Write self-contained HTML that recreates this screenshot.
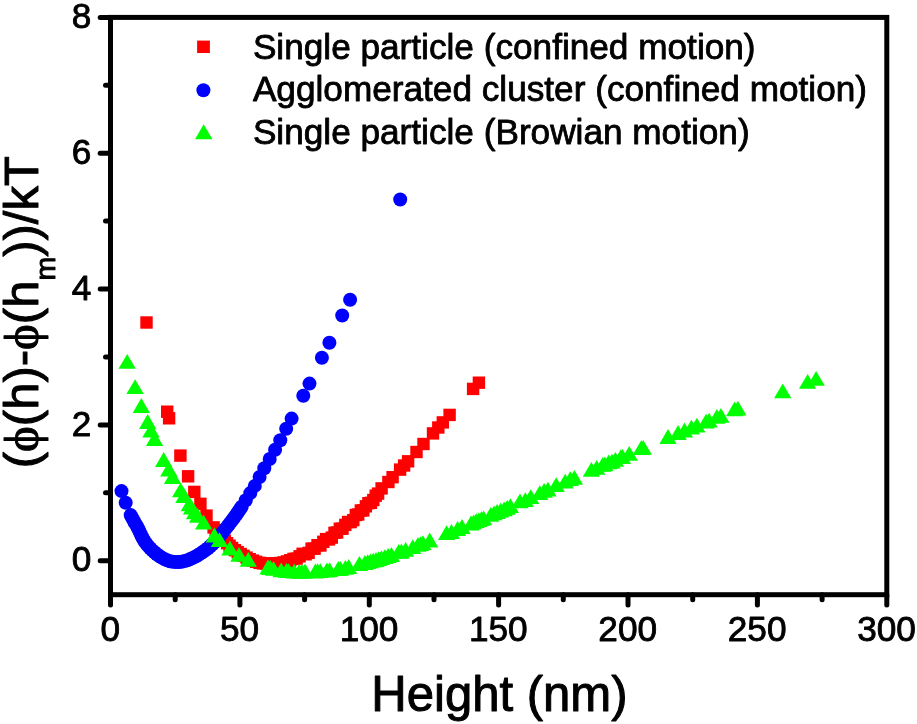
<!DOCTYPE html>
<html lang="en">
<head>
<meta charset="utf-8">
<title>Potential energy profile</title>
<style>
html,body{margin:0;padding:0;background:#fff;}
body{width:917px;height:724px;overflow:hidden;}
svg{display:block;}
svg text .sy{font-family:"Liberation Serif","DejaVu Serif",serif;}
svg text{font-family:"Liberation Sans",Arial,Helvetica,sans-serif;fill:#000;stroke:#000;stroke-width:0.85px;stroke-linejoin:round;}
</style>
</head>
<body>
<svg width="917" height="724" viewBox="0 0 917 724">
<rect width="917" height="724" fill="#fff"/>
<g fill="#ff0000">
<rect x="140.3" y="316.3" width="12.4" height="12.4"/>
<rect x="161.0" y="405.5" width="12.4" height="12.4"/>
<rect x="162.9" y="412.1" width="12.4" height="12.4"/>
<rect x="174.2" y="449.4" width="12.4" height="12.4"/>
<rect x="181.9" y="470.1" width="12.4" height="12.4"/>
<rect x="188.1" y="485.7" width="12.4" height="12.4"/>
<rect x="194.2" y="497.6" width="12.4" height="12.4"/>
<rect x="200.3" y="509.4" width="12.4" height="12.4"/>
<rect x="207.4" y="521.2" width="12.4" height="12.4"/>
<rect x="209.5" y="524.0" width="12.4" height="12.4"/>
<rect x="211.6" y="526.7" width="12.4" height="12.4"/>
<rect x="213.9" y="529.4" width="12.4" height="12.4"/>
<rect x="216.2" y="532.0" width="12.4" height="12.4"/>
<rect x="218.6" y="534.5" width="12.4" height="12.4"/>
<rect x="220.9" y="537.0" width="12.4" height="12.4"/>
<rect x="223.4" y="539.5" width="12.4" height="12.4"/>
<rect x="225.9" y="541.8" width="12.4" height="12.4"/>
<rect x="228.7" y="544.0" width="12.4" height="12.4"/>
<rect x="231.5" y="545.9" width="12.4" height="12.4"/>
<rect x="234.5" y="547.8" width="12.4" height="12.4"/>
<rect x="237.4" y="549.6" width="12.4" height="12.4"/>
<rect x="240.4" y="551.4" width="12.4" height="12.4"/>
<rect x="243.5" y="553.0" width="12.4" height="12.4"/>
<rect x="246.7" y="554.4" width="12.4" height="12.4"/>
<rect x="249.9" y="555.6" width="12.4" height="12.4"/>
<rect x="253.3" y="556.6" width="12.4" height="12.4"/>
<rect x="256.7" y="557.2" width="12.4" height="12.4"/>
<rect x="260.2" y="557.4" width="12.4" height="12.4"/>
<rect x="263.6" y="557.5" width="12.4" height="12.4"/>
<rect x="267.1" y="557.4" width="12.4" height="12.4"/>
<rect x="270.6" y="557.1" width="12.4" height="12.4"/>
<rect x="274.0" y="556.8" width="12.4" height="12.4"/>
<rect x="277.4" y="556.2" width="12.4" height="12.4"/>
<rect x="280.8" y="555.2" width="12.4" height="12.4"/>
<rect x="284.1" y="554.0" width="12.4" height="12.4"/>
<rect x="287.3" y="552.7" width="12.4" height="12.4"/>
<rect x="290.4" y="552.4" width="12.4" height="12.4"/>
<rect x="293.4" y="550.1" width="12.4" height="12.4"/>
<rect x="296.4" y="547.6" width="12.4" height="12.4"/>
<rect x="299.4" y="548.1" width="12.4" height="12.4"/>
<rect x="302.4" y="546.7" width="12.4" height="12.4"/>
<rect x="305.4" y="542.4" width="12.4" height="12.4"/>
<rect x="308.4" y="542.5" width="12.4" height="12.4"/>
<rect x="311.3" y="539.0" width="12.4" height="12.4"/>
<rect x="314.2" y="539.3" width="12.4" height="12.4"/>
<rect x="317.1" y="535.6" width="12.4" height="12.4"/>
<rect x="319.9" y="532.9" width="12.4" height="12.4"/>
<rect x="322.8" y="533.2" width="12.4" height="12.4"/>
<rect x="325.6" y="531.4" width="12.4" height="12.4"/>
<rect x="328.3" y="526.6" width="12.4" height="12.4"/>
<rect x="330.9" y="526.3" width="12.4" height="12.4"/>
<rect x="333.6" y="522.5" width="12.4" height="12.4"/>
<rect x="336.3" y="522.5" width="12.4" height="12.4"/>
<rect x="339.1" y="518.7" width="12.4" height="12.4"/>
<rect x="341.9" y="515.8" width="12.4" height="12.4"/>
<rect x="344.5" y="515.9" width="12.4" height="12.4"/>
<rect x="347.1" y="513.9" width="12.4" height="12.4"/>
<rect x="349.6" y="508.8" width="12.4" height="12.4"/>
<rect x="352.0" y="508.3" width="12.4" height="12.4"/>
<rect x="354.6" y="504.3" width="12.4" height="12.4"/>
<rect x="357.1" y="504.2" width="12.4" height="12.4"/>
<rect x="359.7" y="500.1" width="12.4" height="12.4"/>
<rect x="362.2" y="497.0" width="12.4" height="12.4"/>
<rect x="364.7" y="496.6" width="12.4" height="12.4"/>
<rect x="367.1" y="493.8" width="12.4" height="12.4"/>
<rect x="369.5" y="489.5" width="12.4" height="12.4"/>
<rect x="371.9" y="487.4" width="12.4" height="12.4"/>
<rect x="375.4" y="482.2" width="12.4" height="12.4"/>
<rect x="382.2" y="475.8" width="12.4" height="12.4"/>
<rect x="386.4" y="471.0" width="12.4" height="12.4"/>
<rect x="393.9" y="463.4" width="12.4" height="12.4"/>
<rect x="397.9" y="459.3" width="12.4" height="12.4"/>
<rect x="401.9" y="455.1" width="12.4" height="12.4"/>
<rect x="410.3" y="445.8" width="12.4" height="12.4"/>
<rect x="417.3" y="437.8" width="12.4" height="12.4"/>
<rect x="426.8" y="427.2" width="12.4" height="12.4"/>
<rect x="432.1" y="421.3" width="12.4" height="12.4"/>
<rect x="436.6" y="416.2" width="12.4" height="12.4"/>
<rect x="443.4" y="408.7" width="12.4" height="12.4"/>
<rect x="466.9" y="382.7" width="12.4" height="12.4"/>
<rect x="472.7" y="376.5" width="12.4" height="12.4"/>
</g>
<g fill="#0000ff">
<circle cx="121.5" cy="491.1" r="7.0"/>
<circle cx="125.7" cy="502.7" r="7.0"/>
<circle cx="130.7" cy="515.1" r="7.0"/>
<circle cx="132.0" cy="517.7" r="7.0"/>
<circle cx="133.5" cy="520.3" r="7.0"/>
<circle cx="134.9" cy="522.9" r="7.0"/>
<circle cx="136.5" cy="525.5" r="7.0"/>
<circle cx="137.9" cy="528.1" r="7.0"/>
<circle cx="139.2" cy="530.7" r="7.0"/>
<circle cx="140.4" cy="533.5" r="7.0"/>
<circle cx="141.7" cy="536.2" r="7.0"/>
<circle cx="143.0" cy="538.8" r="7.0"/>
<circle cx="144.5" cy="541.3" r="7.0"/>
<circle cx="146.3" cy="543.7" r="7.0"/>
<circle cx="148.2" cy="546.1" r="7.0"/>
<circle cx="150.2" cy="548.2" r="7.0"/>
<circle cx="152.3" cy="550.4" r="7.0"/>
<circle cx="154.5" cy="552.3" r="7.0"/>
<circle cx="156.8" cy="554.2" r="7.0"/>
<circle cx="159.2" cy="556.0" r="7.0"/>
<circle cx="161.7" cy="557.6" r="7.0"/>
<circle cx="164.3" cy="559.0" r="7.0"/>
<circle cx="167.1" cy="560.2" r="7.0"/>
<circle cx="169.9" cy="561.2" r="7.0"/>
<circle cx="172.8" cy="561.7" r="7.0"/>
<circle cx="175.8" cy="562.0" r="7.0"/>
<circle cx="178.8" cy="562.0" r="7.0"/>
<circle cx="181.7" cy="561.7" r="7.0"/>
<circle cx="184.6" cy="561.1" r="7.0"/>
<circle cx="187.5" cy="560.2" r="7.0"/>
<circle cx="190.2" cy="559.1" r="7.0"/>
<circle cx="192.9" cy="557.9" r="7.0"/>
<circle cx="195.6" cy="556.5" r="7.0"/>
<circle cx="198.2" cy="555.0" r="7.0"/>
<circle cx="200.7" cy="553.4" r="7.0"/>
<circle cx="203.1" cy="551.8" r="7.0"/>
<circle cx="205.6" cy="550.0" r="7.0"/>
<circle cx="208.0" cy="548.2" r="7.0"/>
<circle cx="210.2" cy="546.3" r="7.0"/>
<circle cx="212.4" cy="544.3" r="7.0"/>
<circle cx="214.5" cy="542.2" r="7.0"/>
<circle cx="216.5" cy="540.0" r="7.0"/>
<circle cx="218.4" cy="537.7" r="7.0"/>
<circle cx="220.3" cy="535.4" r="7.0"/>
<circle cx="222.2" cy="533.1" r="7.0"/>
<circle cx="224.0" cy="530.8" r="7.0"/>
<circle cx="225.9" cy="528.4" r="7.0"/>
<circle cx="227.7" cy="526.1" r="7.0"/>
<circle cx="229.5" cy="523.8" r="7.0"/>
<circle cx="231.3" cy="521.4" r="7.0"/>
<circle cx="233.1" cy="519.0" r="7.0"/>
<circle cx="234.9" cy="516.6" r="7.0"/>
<circle cx="236.6" cy="514.2" r="7.0"/>
<circle cx="238.3" cy="511.7" r="7.0"/>
<circle cx="240.0" cy="509.3" r="7.0"/>
<circle cx="241.6" cy="506.8" r="7.0"/>
<circle cx="245.8" cy="500.3" r="7.0"/>
<circle cx="250.3" cy="493.1" r="7.0"/>
<circle cx="254.8" cy="485.9" r="7.0"/>
<circle cx="259.6" cy="477.0" r="7.0"/>
<circle cx="264.3" cy="468.3" r="7.0"/>
<circle cx="269.7" cy="459.0" r="7.0"/>
<circle cx="275.1" cy="449.7" r="7.0"/>
<circle cx="280.3" cy="440.2" r="7.0"/>
<circle cx="286.2" cy="428.8" r="7.0"/>
<circle cx="291.6" cy="418.6" r="7.0"/>
<circle cx="303.3" cy="395.8" r="7.0"/>
<circle cx="309.5" cy="383.6" r="7.0"/>
<circle cx="321.9" cy="357.7" r="7.0"/>
<circle cx="329.4" cy="342.8" r="7.0"/>
<circle cx="342.2" cy="315.5" r="7.0"/>
<circle cx="350.1" cy="299.7" r="7.0"/>
<circle cx="400.2" cy="199.5" r="7.0"/>
</g>
<g fill="#00ff00">
<polygon points="127.2,354.0 118.5,368.8 135.8,368.8"/>
<polygon points="135.1,379.2 126.4,394.0 143.8,394.0"/>
<polygon points="141.3,398.1 132.7,412.9 150.0,412.9"/>
<polygon points="147.7,414.1 139.0,428.9 156.3,428.9"/>
<polygon points="151.0,422.7 142.3,437.5 159.7,437.5"/>
<polygon points="154.6,431.2 145.9,446.0 163.2,446.0"/>
<polygon points="163.7,452.1 155.0,466.9 172.3,466.9"/>
<polygon points="168.8,461.6 160.2,476.4 177.5,476.4"/>
<polygon points="172.6,469.1 163.9,483.9 181.2,483.9"/>
<polygon points="180.7,482.5 172.0,497.3 189.3,497.3"/>
<polygon points="184.0,488.1 175.3,502.9 192.7,502.9"/>
<polygon points="189.3,496.5 180.7,511.3 198.0,511.3"/>
<polygon points="191.6,499.8 182.9,514.6 200.2,514.6"/>
<polygon points="194.6,504.4 185.9,519.2 203.2,519.2"/>
<polygon points="197.7,507.9 189.0,522.7 206.3,522.7"/>
<polygon points="203.7,514.7 195.0,529.5 212.3,529.5"/>
<polygon points="214.4,527.6 205.8,542.4 223.1,542.4"/>
<polygon points="219.5,532.2 210.8,547.0 228.2,547.0"/>
<polygon points="230.0,540.7 221.3,555.5 238.7,555.5"/>
<polygon points="239.0,546.9 230.3,561.7 247.7,561.7"/>
<polygon points="248.3,551.9 239.7,566.7 256.9,566.7"/>
<polygon points="268.0,559.6 259.4,574.4 276.6,574.4"/>
<polygon points="270.2,560.1 261.6,574.9 278.8,574.9"/>
<polygon points="273.5,561.0 264.9,575.8 282.1,575.8"/>
<polygon points="281.1,562.5 272.5,577.3 289.8,577.3"/>
<polygon points="286.5,563.0 277.9,577.8 295.1,577.8"/>
<polygon points="288.7,563.2 280.1,578.0 297.3,578.0"/>
<polygon points="294.2,563.7 285.6,578.5 302.8,578.5"/>
<polygon points="299.1,564.0 290.5,578.8 307.8,578.8"/>
<polygon points="301.8,563.8 293.2,578.6 310.4,578.6"/>
<polygon points="305.1,563.6 296.5,578.4 313.8,578.4"/>
<polygon points="315.4,563.6 306.8,578.4 324.0,578.4"/>
<polygon points="317.6,563.2 309.0,578.0 326.2,578.0"/>
<polygon points="320.3,563.2 311.7,578.0 328.9,578.0"/>
<polygon points="326.9,562.6 318.2,577.4 335.5,577.4"/>
<polygon points="329.6,562.2 321.0,577.0 338.2,577.0"/>
<polygon points="338.3,561.1 329.7,575.9 346.9,575.9"/>
<polygon points="340.5,561.0 331.9,575.8 349.1,575.8"/>
<polygon points="345.4,559.9 336.8,574.7 354.0,574.7"/>
<polygon points="348.7,559.1 340.1,573.9 357.3,573.9"/>
<polygon points="359.4,556.1 350.8,570.9 368.0,570.9"/>
<polygon points="364.9,555.1 356.2,569.9 373.5,569.9"/>
<polygon points="367.7,554.3 359.1,569.1 376.3,569.1"/>
<polygon points="370.4,553.4 361.8,568.2 379.0,568.2"/>
<polygon points="373.2,552.7 364.6,567.5 381.8,567.5"/>
<polygon points="376.0,552.1 367.4,566.9 384.6,566.9"/>
<polygon points="378.7,551.2 370.1,566.0 387.3,566.0"/>
<polygon points="381.5,550.3 372.9,565.1 390.1,565.1"/>
<polygon points="384.8,549.2 376.2,564.0 393.4,564.0"/>
<polygon points="388.1,548.1 379.5,562.9 396.8,562.9"/>
<polygon points="391.4,547.1 382.8,561.9 400.0,561.9"/>
<polygon points="398.7,543.9 390.1,558.7 407.3,558.7"/>
<polygon points="401.4,543.6 392.8,558.4 410.0,558.4"/>
<polygon points="405.6,542.0 397.0,556.8 414.2,556.8"/>
<polygon points="412.8,539.3 404.2,554.1 421.4,554.1"/>
<polygon points="418.0,537.0 409.4,551.8 426.6,551.8"/>
<polygon points="420.7,536.3 412.1,551.1 429.3,551.1"/>
<polygon points="422.9,535.3 414.2,550.1 431.5,550.1"/>
<polygon points="429.7,532.6 421.1,547.4 438.3,547.4"/>
<polygon points="446.6,525.3 438.0,540.1 455.2,540.1"/>
<polygon points="451.4,524.1 442.8,538.9 460.0,538.9"/>
<polygon points="457.6,521.1 449.0,535.9 466.2,535.9"/>
<polygon points="462.0,519.1 453.4,533.9 470.6,533.9"/>
<polygon points="471.0,515.6 462.4,530.4 479.6,530.4"/>
<polygon points="473.6,514.4 465.0,529.2 482.2,529.2"/>
<polygon points="476.2,513.2 467.6,528.0 484.8,528.0"/>
<polygon points="478.8,512.2 470.2,527.0 487.4,527.0"/>
<polygon points="481.4,511.3 472.8,526.1 490.0,526.1"/>
<polygon points="483.6,510.4 475.0,525.2 492.2,525.2"/>
<polygon points="490.8,506.9 482.2,521.7 499.4,521.7"/>
<polygon points="494.0,505.5 485.4,520.3 502.6,520.3"/>
<polygon points="497.1,504.1 488.5,518.9 505.8,518.9"/>
<polygon points="500.6,502.7 492.0,517.5 509.2,517.5"/>
<polygon points="504.1,501.4 495.5,516.2 512.8,516.2"/>
<polygon points="507.2,499.9 498.6,514.7 515.9,514.7"/>
<polygon points="510.4,498.3 501.8,513.1 519.0,513.1"/>
<polygon points="520.0,493.4 511.4,508.2 528.6,508.2"/>
<polygon points="525.3,492.3 516.6,507.1 533.9,507.1"/>
<polygon points="530.8,489.2 522.1,504.0 539.4,504.0"/>
<polygon points="539.8,485.3 531.1,500.1 548.4,500.1"/>
<polygon points="544.1,482.9 535.5,497.7 552.8,497.7"/>
<polygon points="548.0,481.8 539.4,496.6 556.6,496.6"/>
<polygon points="556.2,477.2 547.6,492.0 564.9,492.0"/>
<polygon points="565.2,473.7 556.6,488.5 573.9,488.5"/>
<polygon points="570.3,471.3 561.6,486.1 578.9,486.1"/>
<polygon points="574.4,470.0 565.8,484.8 583.0,484.8"/>
<polygon points="591.4,461.9 582.8,476.7 600.0,476.7"/>
<polygon points="596.7,459.9 588.1,474.7 605.4,474.7"/>
<polygon points="602.7,457.0 594.1,471.8 611.4,471.8"/>
<polygon points="604.9,456.5 596.2,471.3 613.5,471.3"/>
<polygon points="608.7,454.4 600.1,469.2 617.4,469.2"/>
<polygon points="612.0,453.7 603.4,468.5 620.6,468.5"/>
<polygon points="615.4,451.9 606.8,466.7 624.0,466.7"/>
<polygon points="620.9,449.2 612.2,464.0 629.5,464.0"/>
<polygon points="622.5,448.9 613.9,463.7 631.1,463.7"/>
<polygon points="629.2,445.9 620.6,460.7 637.9,460.7"/>
<polygon points="641.3,440.3 632.6,455.1 649.9,455.1"/>
<polygon points="643.2,440.0 634.6,454.8 651.9,454.8"/>
<polygon points="668.0,429.1 659.4,443.9 676.6,443.9"/>
<polygon points="678.1,425.1 669.5,439.9 686.8,439.9"/>
<polygon points="684.5,422.6 675.9,437.4 693.1,437.4"/>
<polygon points="691.4,419.7 682.8,434.5 700.0,434.5"/>
<polygon points="696.9,417.7 688.2,432.5 705.5,432.5"/>
<polygon points="706.1,413.8 697.5,428.6 714.8,428.6"/>
<polygon points="709.1,412.8 700.5,427.6 717.8,427.6"/>
<polygon points="716.9,408.9 708.2,423.7 725.5,423.7"/>
<polygon points="720.9,407.9 712.2,422.7 729.5,422.7"/>
<polygon points="734.6,401.4 726.0,416.2 743.2,416.2"/>
<polygon points="737.9,400.7 729.2,415.5 746.5,415.5"/>
<polygon points="782.7,383.4 774.1,398.2 791.4,398.2"/>
<polygon points="807.6,373.9 799.0,388.7 816.2,388.7"/>
<polygon points="816.1,371.0 807.5,385.8 824.8,385.8"/>
</g>
<rect x="110.5" y="17.4" width="776.3" height="577.3" fill="none" stroke="#000" stroke-width="5"/>
<g stroke="#000" stroke-width="5" stroke-linecap="round">
<line x1="110.5" y1="594.7" x2="110.5" y2="605.0"/>
<line x1="175.2" y1="594.7" x2="175.2" y2="599.7"/>
<line x1="239.9" y1="594.7" x2="239.9" y2="605.0"/>
<line x1="304.6" y1="594.7" x2="304.6" y2="599.7"/>
<line x1="369.3" y1="594.7" x2="369.3" y2="605.0"/>
<line x1="434.0" y1="594.7" x2="434.0" y2="599.7"/>
<line x1="498.6" y1="594.7" x2="498.6" y2="605.0"/>
<line x1="563.3" y1="594.7" x2="563.3" y2="599.7"/>
<line x1="628.0" y1="594.7" x2="628.0" y2="605.0"/>
<line x1="692.7" y1="594.7" x2="692.7" y2="599.7"/>
<line x1="757.4" y1="594.7" x2="757.4" y2="605.0"/>
<line x1="822.1" y1="594.7" x2="822.1" y2="599.7"/>
<line x1="886.8" y1="594.7" x2="886.8" y2="605.0"/>
<line x1="110.5" y1="560.7" x2="100.2" y2="560.7"/>
<line x1="110.5" y1="492.8" x2="105.5" y2="492.8"/>
<line x1="110.5" y1="424.9" x2="100.2" y2="424.9"/>
<line x1="110.5" y1="357.0" x2="105.5" y2="357.0"/>
<line x1="110.5" y1="289.1" x2="100.2" y2="289.1"/>
<line x1="110.5" y1="221.1" x2="105.5" y2="221.1"/>
<line x1="110.5" y1="153.2" x2="100.2" y2="153.2"/>
<line x1="110.5" y1="85.3" x2="105.5" y2="85.3"/>
<line x1="110.5" y1="17.4" x2="100.2" y2="17.4"/>
</g>
<g font-size="35.2" text-anchor="middle">
<text transform="translate(110.2,641.3) scale(1,1.02)">0</text>
<text transform="translate(239.6,641.3) scale(1,1.02)">50</text>
<text transform="translate(369.0,641.3) scale(1,1.02)">100</text>
<text transform="translate(498.3,641.3) scale(1,1.02)">150</text>
<text transform="translate(627.7,641.3) scale(1,1.02)">200</text>
<text transform="translate(757.1,641.3) scale(1,1.02)">250</text>
<text transform="translate(886.5,641.3) scale(1,1.02)">300</text>
</g>
<g font-size="35.2" text-anchor="end">
<text transform="translate(91.4,571.3) scale(1,1.02)">0</text>
<text transform="translate(91.4,435.5) scale(1,1.02)">2</text>
<text transform="translate(91.4,299.7) scale(1,1.02)">4</text>
<text transform="translate(91.4,163.8) scale(1,1.02)">6</text>
<text transform="translate(91.4,28.0) scale(1,1.02)">8</text>
</g>
<rect x="197.1" y="40.6" width="12.8" height="12.4" fill="#ff0000"/>
<circle cx="203.4" cy="90.3" r="7" fill="#0000ff"/>
<polygon points="203.7,124.2 195,139.3 212.4,139.3" fill="#00ff00"/>
<g font-size="35.2">
<text x="252.9" y="58.6">Single particle (confined motion)</text>
<text x="252.9" y="100.9">Agglomerated cluster (confined motion)</text>
<text x="252.9" y="143.5">Single particle (Browian motion)</text>
</g>
<text id="xt" x="499.4" y="711.3" font-size="49.05" text-anchor="middle" style="stroke-width:1px">Height (nm)</text>
<text id="yt" transform="translate(38,312.2) rotate(-90)" font-size="49" text-anchor="middle" style="stroke-width:1px">(<tspan class="sy">ϕ</tspan>(h)-<tspan class="sy">ϕ</tspan>(h<tspan font-size="28.5" dy="17.2">m</tspan><tspan dy="-17.2">))/kT</tspan></text>
</svg>
</body>
</html>
